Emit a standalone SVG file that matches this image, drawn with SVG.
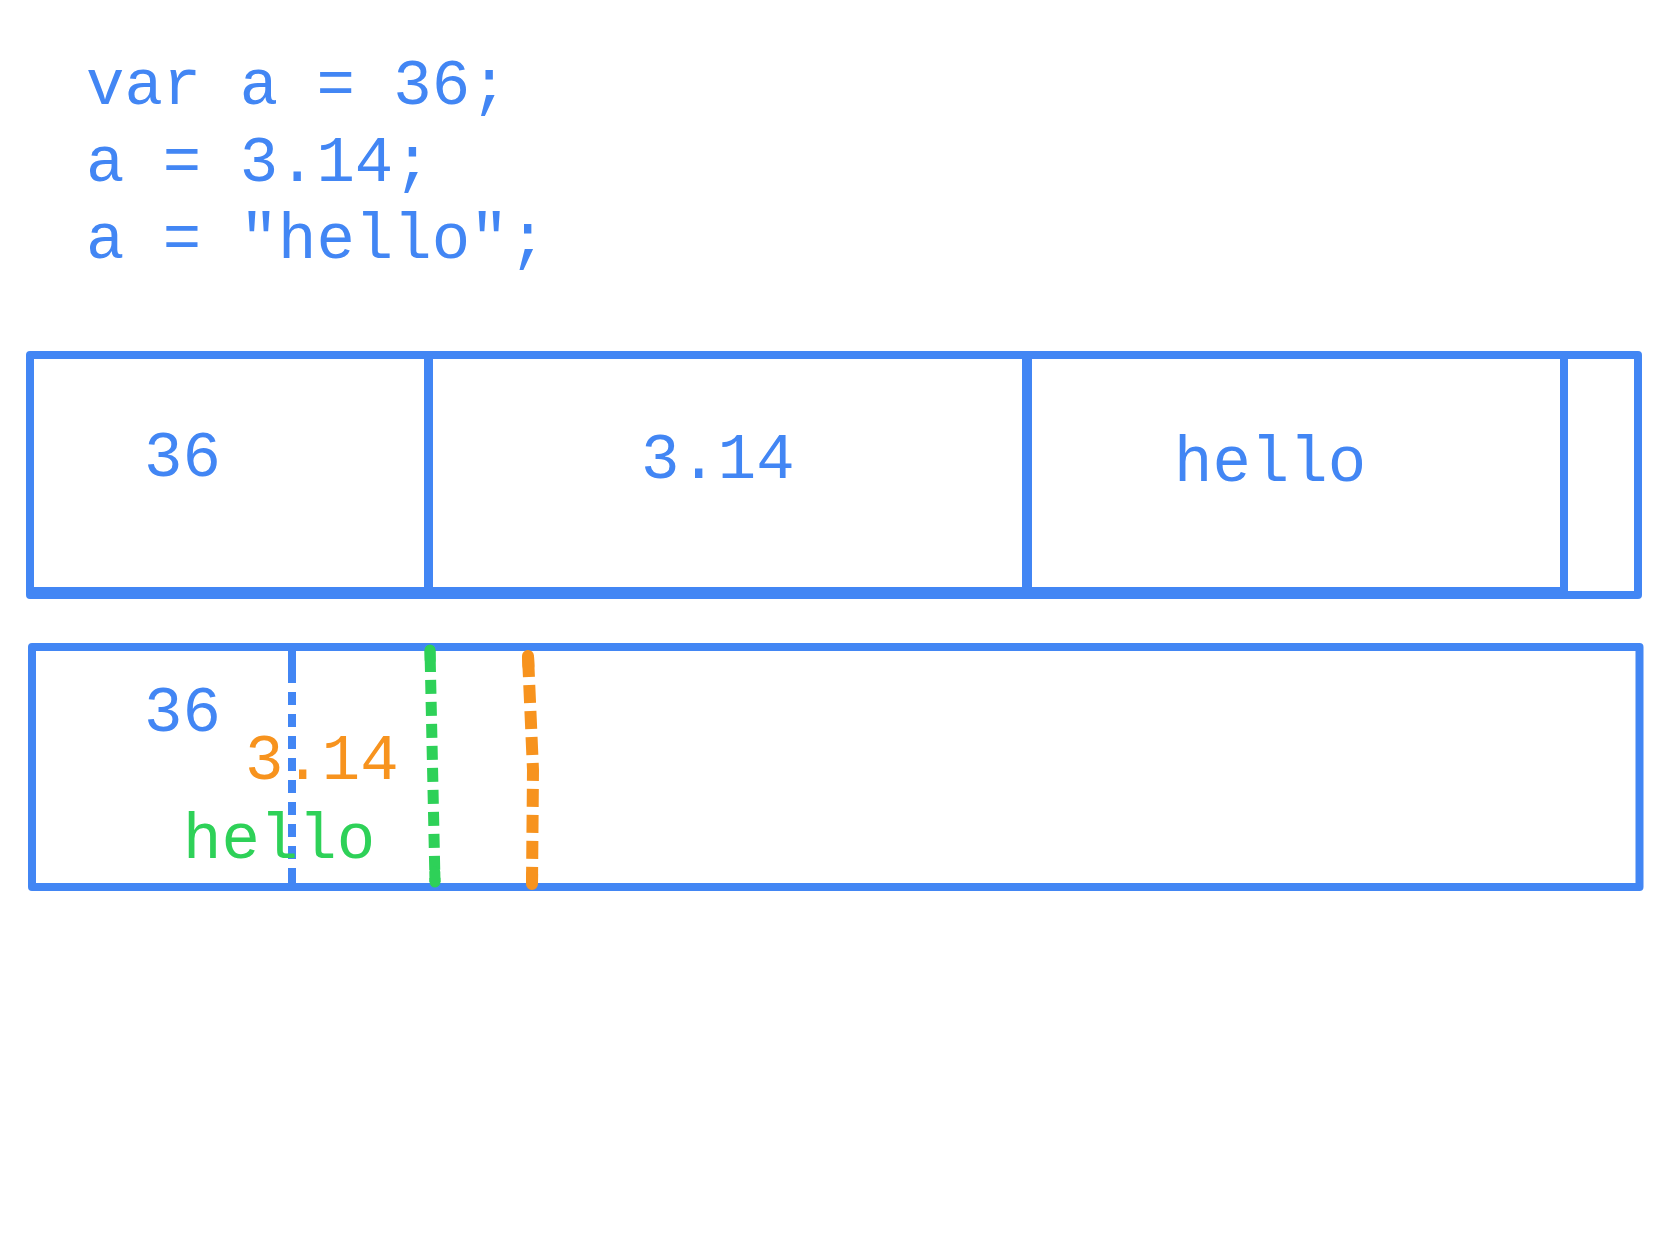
<svg xmlns="http://www.w3.org/2000/svg" width="1668" height="1251" viewBox="0 0 1668 1251">
<style>
  .t { font-family: "Liberation Mono", "DejaVu Sans Mono", monospace; font-size: 64px; }
  .blue { fill: #4286f4; }
  .orange { fill: #f7931e; }
  .green { fill: #2ed158; }
  .box { fill: none; stroke: #4286f4; stroke-width: 8; stroke-linejoin: round; }
  .div { stroke: #4286f4; stroke-width: 9; }
</style>
<rect width="1668" height="1251" fill="#ffffff"/>
<g id="code">
  <text class="t blue" x="86" y="104" xml:space="preserve">var a = 36;</text>
  <text class="t blue" x="86" y="181" xml:space="preserve">a = 3.14;</text>
  <text class="t blue" x="86" y="258" xml:space="preserve">a = "hello";</text>
</g>
<g id="memory-separate">
  <rect class="box" x="30" y="355" width="1608" height="240"/>
  <line class="div" x1="30" y1="591" x2="1564" y2="591" style="stroke-width:8"/>
  <line class="div" x1="428.5" y1="355" x2="428.5" y2="591"/>
  <line class="div" x1="1027" y1="355" x2="1027" y2="591" style="stroke-width:10"/>
  <line class="div" x1="1564" y1="355" x2="1564" y2="595" style="stroke-width:8"/>
  <text class="t blue" x="144" y="476">36</text>
  <text class="t blue" x="641" y="478">3.14</text>
  <text class="t blue" x="1174" y="481">hello</text>
</g>
<g id="memory-shared">
  <rect class="box" x="32" y="647" width="1607.5" height="240"/>
  <text class="t blue" x="144" y="731">36</text>
  <text class="t orange" x="245" y="779">3.14</text>
  <path d="M292 651 L292 883" fill="none" stroke="#4286f4" stroke-width="8" stroke-dasharray="32 9 13 9 13 9 13 9 13 9 13 9 13 9 13 9 13 9 20"/>
  <text class="t green" x="183" y="858">hello</text>
  <g id="green-line" fill="none" stroke="#2ed158" stroke-width="11">
    <path d="M430 650 L435 882" stroke-dasharray="22 8 14 8 14 8 14 8 14 8 14 8 14 8 14 8 14 8 14 8 30"/>
    <path d="M430 650 L430.2 660 M434.8 872 L435 882" stroke-linecap="round"/>
  </g>
  <g id="orange-line" fill="none" stroke="#f7931e" stroke-width="12">
    <path d="M528 656 L533 770 L532 884" stroke-dasharray="21 8 18 8 18 8 18 8 18 8 18 8 18 8 18 8 18 8 40"/>
    <path d="M528 656 L528.4 666 M532.1 874 L532 884" stroke-linecap="round"/>
  </g>
</g>
</svg>
